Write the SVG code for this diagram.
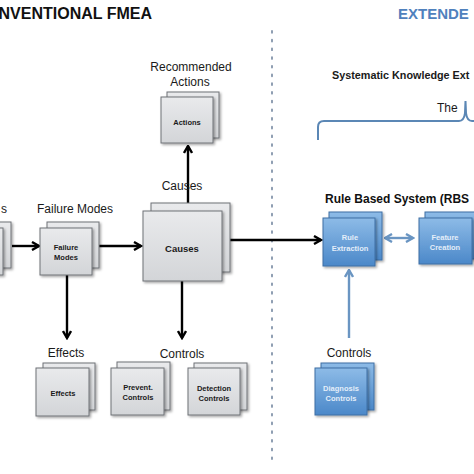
<svg xmlns="http://www.w3.org/2000/svg" width="474" height="474" viewBox="0 0 474 474">
<defs>
<linearGradient id="gGray" x1="0" y1="0" x2="0" y2="1">
<stop offset="0" stop-color="#e9eaec"/>
<stop offset="1" stop-color="#d3d5d8"/>
</linearGradient>
<linearGradient id="gBlue" x1="0" y1="0" x2="0" y2="1">
<stop offset="0" stop-color="#8dbbe7"/>
<stop offset="1" stop-color="#4b88c9"/>
</linearGradient>
<filter id="sh" x="-20%" y="-20%" width="150%" height="150%">
<feDropShadow dx="1.5" dy="1.5" stdDeviation="1.2" flood-color="#000" flood-opacity="0.35"/>
</filter>
<marker id="ak" viewBox="0 0 10 10" refX="8.5" refY="5" markerWidth="10" markerHeight="10" markerUnits="userSpaceOnUse" orient="auto">
<path d="M1.5,1 L8.5,5 L1.5,9" fill="none" stroke="#000" stroke-width="2.4"/>
</marker>
<marker id="ab" viewBox="0 0 10 10" refX="8.5" refY="5" markerWidth="10" markerHeight="10" markerUnits="userSpaceOnUse" orient="auto-start-reverse">
<path d="M1.5,1 L8.5,5 L1.5,9" fill="none" stroke="#6a95c2" stroke-width="2.4"/>
</marker>
</defs>
<style>
.g{fill:url(#gGray);stroke:#6e7277;stroke-width:1;filter:url(#sh)}
.b{fill:url(#gBlue);stroke:#3e6fa4;stroke-width:1;filter:url(#sh)}
.lbl{font-family:"Liberation Sans",Arial,sans-serif;font-size:12px;fill:#1a1a1a;text-anchor:middle}
.bt{font-family:"Liberation Sans",Arial,sans-serif;font-weight:bold;font-size:7.5px;fill:#1a1a1a;text-anchor:middle}
.wt{font-family:"Liberation Sans",Arial,sans-serif;font-weight:bold;font-size:7.5px;fill:#e4eef9;text-anchor:middle}
.k{stroke:#000;stroke-width:2.4;fill:none}
.bl{stroke:#6a95c2;stroke-width:2.4;fill:none}
</style>
<rect width="474" height="474" fill="#fff"/>

<g id="frame">
<text x="152" y="19" text-anchor="end" font-family="Liberation Sans,Arial,sans-serif" font-weight="bold" font-size="16" fill="#111">NVENTIONAL FMEA</text>
<text x="398" y="19" font-family="Liberation Sans,Arial,sans-serif" font-weight="bold" font-size="15" fill="#4f81bd">EXTENDE</text>
<line x1="0" y1="25" x2="272" y2="25" stroke="#111" stroke-width="2" filter="url(#sh)"/>
<line x1="272" y1="25" x2="474" y2="25" stroke="#4f81bd" stroke-width="2" filter="url(#sh)"/>
<line x1="0" y1="467" x2="272" y2="467" stroke="#111" stroke-width="2" filter="url(#sh)"/>
<line x1="272" y1="467" x2="474" y2="467" stroke="#4f81bd" stroke-width="2" filter="url(#sh)"/>
<line x1="272" y1="31" x2="272" y2="462" stroke="#8394aa" stroke-width="1.8" stroke-dasharray="1.8 6.9" stroke-linecap="round"/>
<text x="332" y="79" font-family="Liberation Sans,Arial,sans-serif" font-weight="bold" font-size="10.8" fill="#1a1a1a">Systematic Knowledge Ext</text>
<text x="437" y="112" font-family="Liberation Sans,Arial,sans-serif" font-size="12" fill="#1a1a1a">The</text>
<path d="M318,140 V127 Q318,121 324,121 H459 Q464,121 465,113 L465.5,101 L466,113 Q467,121 472,121 H474" fill="none" stroke="#5b87b5" stroke-width="2"/>
<text x="325" y="203" font-family="Liberation Sans,Arial,sans-serif" font-weight="bold" font-size="12" fill="#111">Rule Based System (RBS</text>
</g>

<g id="connectors">
<line class="k" x1="12" y1="246" x2="39" y2="246" marker-end="url(#ak)"/>
<line class="k" x1="99" y1="246" x2="141" y2="246" marker-end="url(#ak)"/>
<line class="k" x1="230" y1="240" x2="321" y2="240" marker-end="url(#ak)"/>
<line class="k" x1="188" y1="203" x2="188" y2="146" marker-end="url(#ak)"/>
<line class="k" x1="67" y1="275" x2="67" y2="338" marker-end="url(#ak)"/>
<line class="k" x1="182" y1="281" x2="182" y2="338" marker-end="url(#ak)"/>
<line class="bl" x1="385" y1="238" x2="413" y2="238" marker-start="url(#ab)" marker-end="url(#ab)"/>
<line class="bl" x1="349" y1="338" x2="349" y2="270" marker-end="url(#ab)"/>
</g>

<g id="node-left">
<text class="lbl" x="4" y="213">s</text>
<rect class="g" x="-40" y="222" width="51" height="46"/>
<rect class="g" x="-47" y="228" width="50" height="47"/>
</g>

<g id="node-failure-modes">
<text class="lbl" x="75" y="213">Failure Modes</text>
<rect class="g" x="47" y="222" width="52" height="46"/>
<rect class="g" x="40" y="228" width="52" height="47"/>
<text class="bt" x="66" y="250">Failure</text>
<text class="bt" x="66" y="259.5">Modes</text>
</g>

<g id="node-causes">
<text class="lbl" x="182" y="190">Causes</text>
<rect class="g" x="151" y="203" width="79" height="69"/>
<rect class="g" x="143" y="211" width="79" height="70"/>
<text class="bt" x="182" y="251.5" style="font-size:9.5px">Causes</text>
</g>

<g id="node-actions">
<text class="lbl" x="191" y="71">Recommended</text>
<text class="lbl" x="190" y="86">Actions</text>
<rect class="g" x="167" y="92" width="52" height="46"/>
<rect class="g" x="161" y="97" width="52" height="46"/>
<text class="bt" x="187" y="125">Actions</text>
</g>

<g id="node-effects">
<text class="lbl" x="66" y="357">Effects</text>
<rect class="g" x="43" y="363" width="52" height="47"/>
<rect class="g" x="36" y="368" width="53" height="48"/>
<text class="bt" x="63" y="396">Effects</text>
</g>

<text class="lbl" x="182" y="358">Controls</text>

<g id="node-prevent">
<rect class="g" x="117" y="362" width="53" height="48"/>
<rect class="g" x="111" y="368" width="53" height="47"/>
<text class="bt" x="138" y="390">Prevent.</text>
<text class="bt" x="138" y="400">Controls</text>
</g>

<g id="node-detection">
<rect class="g" x="194" y="363" width="53" height="47"/>
<rect class="g" x="188" y="368" width="52" height="47"/>
<text class="bt" x="214" y="391">Detection</text>
<text class="bt" x="214" y="401">Controls</text>
</g>

<g id="node-rule-extraction">
<rect class="b" x="329" y="212" width="53" height="48"/>
<rect class="b" x="323" y="218" width="52" height="48"/>
<text class="wt" x="350" y="240">Rule</text>
<text class="wt" x="350" y="250.5">Extraction</text>
</g>

<g id="node-feature-creation">
<rect class="b" x="425" y="212" width="60" height="47"/>
<rect class="b" x="419" y="218" width="53" height="46"/>
<text class="wt" x="445" y="240">Feature</text>
<text class="wt" x="445" y="250">Creation</text>
</g>

<g id="node-diagnosis">
<text class="lbl" x="349" y="357">Controls</text>
<rect class="b" x="321" y="363" width="53" height="47"/>
<rect class="b" x="315" y="368" width="52" height="47"/>
<text class="wt" x="341" y="391">Diagnosis</text>
<text class="wt" x="341" y="401">Controls</text>
</g>
</svg>
